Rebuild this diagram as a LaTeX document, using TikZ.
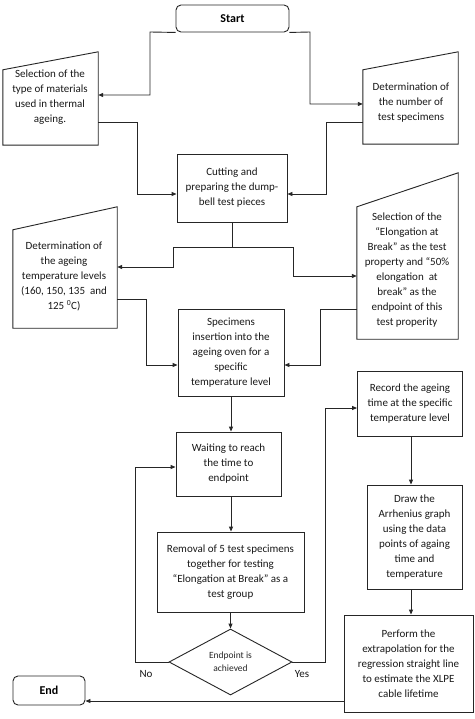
\documentclass[tikz,border=0pt]{standalone}
\usepackage{fontspec}
\setmainfont{Carlito}
\usetikzlibrary{arrows.meta,shapes.geometric}
\begin{document}
\begin{tikzpicture}[x=1pt,y=-1pt,
  line/.style={draw=black!85,line width=0.9pt},
  arr/.style={line,-{Triangle[length=5pt,width=4pt]}},
  txt/.style={align=center,font=\fontsize{11}{15}\selectfont,text=black!90,inner sep=0pt},
  box/.style={line,txt,inner sep=0pt},
  term/.style={line,rounded corners=5pt,inner sep=0pt,font=\fontsize{12}{14}\selectfont\bfseries},
  ghost/.style={inner sep=0pt}]
\useasboundingbox[fill=white] (0,0) rectangle (474,719);
% terminals
\node[term,minimum width=113pt,minimum height=27pt] (start) at (232.5,18.5) {Start};
\node[term,minimum width=72pt,minimum height=29pt] (endn) at (49,690.5) {End};
% manual-input shapes
\node[ghost,minimum width=95pt,minimum height=93pt] (mat) at (50.5,98.5) {};
\draw[line] (mat.south west) -- (mat.south east) -- (mat.north east) -- ([yshift=-18pt]mat.north west) -- cycle;
\node[txt] (matt) at (50,97) {Selection of the\\type of materials\\used in thermal\\ageing.};
\node[ghost,minimum width=95pt,minimum height=92pt] (num) at (410.5,98) {};
\draw[line] (num.south west) -- (num.south east) -- (num.north east) -- ([yshift=-18pt]num.north west) -- cycle;
\node[txt] (numt) at (411,103) {Determination of\\the number of\\test specimens};
\node[ghost,minimum width=104pt,minimum height=121pt] (temp) at (65,267.5) {};
\draw[line] (temp.south west) -- (temp.south east) -- (temp.north east) -- ([yshift=-23pt]temp.north west) -- cycle;
\node[txt] (tempt) at (64,276) {Determination of\\the ageing\\temperature levels\\(160, 150, 135~ and\\125 \textsuperscript{0}C)};
\node[ghost,minimum width=101pt,minimum height=166pt] (elong) at (407.5,256) {};
\draw[line] (elong.south west) -- (elong.south east) -- (elong.north east) -- ([yshift=-34pt]elong.north west) -- cycle;
\node[txt] (elongt) at (407,270.5) {Selection of the\\“Elongation at\\Break” as the test\\property and “50\%\\elongation~ at\\break” as the\\endpoint of this\\test properity};
% process boxes
\node[box,minimum width=110pt,minimum height=68pt] (cut) at (232,188) {Cutting and\\preparing the dump-\\bell test pieces};
\node[box,minimum width=106pt,minimum height=87pt] (spec) at (231,352.5) {Specimens\\insertion into the\\ageing oven for a\\specific\\temperature level};
\node[box,minimum width=105pt,minimum height=64pt] (wait) at (228.5,464) {Waiting to reach\\the time to\\endpoint};
\node[box,minimum width=147pt,minimum height=80pt] (rem) at (230.5,572) {Removal of 5 test specimens\\together for testing\\“Elongation at Break” as a\\test group};
\node[line,diamond,minimum width=123pt,minimum height=66pt,inner sep=0pt,align=center,
      font=\fontsize{9.5}{13}\selectfont,text=black!85] (dia) at (230.5,662) {Endpoint is\\achieved};
\node[box,minimum width=105pt,minimum height=65pt] (rec) at (410,403.5) {Record the ageing\\time at the specific\\temperature level};
\node[box,minimum width=95pt,minimum height=104pt] (drw) at (414.5,537) {Draw the\\Arrhenius graph\\using the data\\points of againg\\time and\\temperature};
\node[box,minimum width=129pt,minimum height=97pt] (perf) at (408.5,663.5) {Perform the\\extrapolation for the\\regression straight line\\to estimate the XLPE\\cable lifetime};
\node[txt] (no) at (146,674) {No};
\node[txt] (yes) at (302,674) {Yes};
% connectors
\draw[arr] (start.south west) -- (150,32) |- (mat.east |- 0,95);
\draw[arr] (start.south east) -- (310,32) |- (num.west |- 0,104);
\draw[arr] (mat.east |- 0,122) -| (137,194) -- (cut.west |- 0,194);
\draw[arr] (num.west |- 0,122) -| (326,194) -- (cut.east |- 0,194);
\draw[line] (cut.south) -- (232,247);
\draw[arr] (232,247) -| (173,267) -- (temp.east |- 0,267);
\draw[arr] (232,247) -| (293,276) -- (elong.west |- 0,276);
\draw[arr] (temp.east |- 0,299) -| (146,365) -- (spec.west |- 0,365);
\draw[arr] (elong.west |- 0,309) -| (320,365) -- (spec.east |- 0,365);
\draw[arr] (spec.south -| 231,0) -- (wait.north -| 231,0);
\draw[arr] (wait.south -| 231,0) -- (rem.north -| 231,0);
\draw[arr] (rem.south -| dia.north) -- (dia.north);
\draw[arr] (dia.west) -- (135,662) |- (wait.west |- 0,467);
\draw[arr] (dia.east) -- (325,662) |- (rec.west |- 0,408);
\draw[arr] (rec.south -| 411,0) -- (drw.north -| 411,0);
\draw[arr] (drw.south -| 411,0) -- (perf.north -| 411,0);
\draw[arr] (perf.west |- 0,701) -- (endn.east |- 0,701);
\end{tikzpicture}
\end{document}
